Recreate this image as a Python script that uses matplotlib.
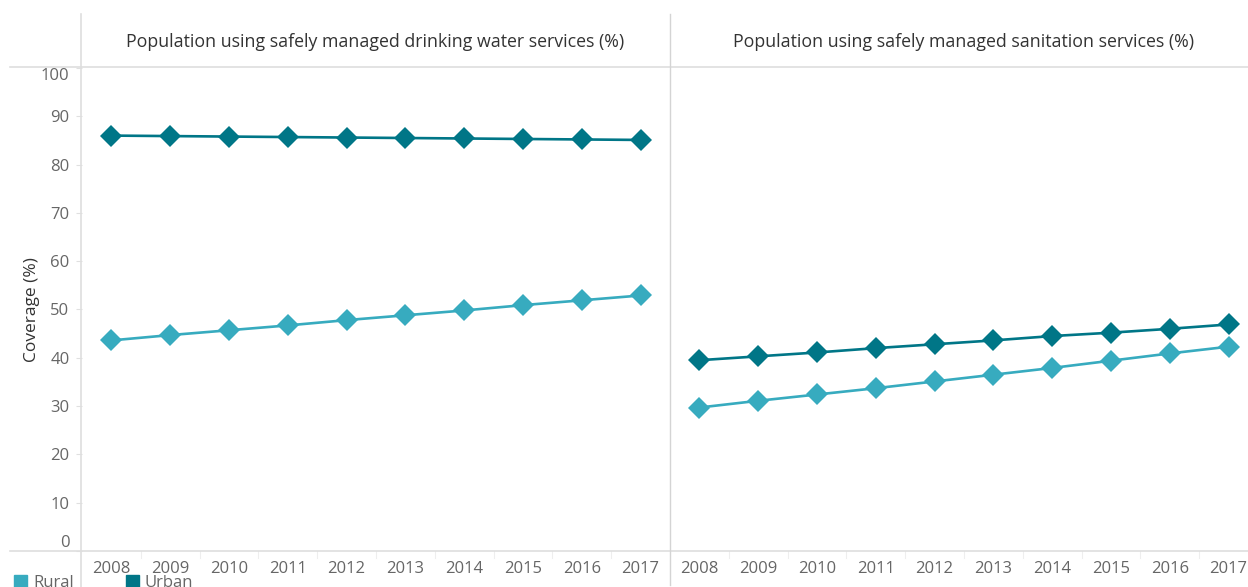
import matplotlib
matplotlib.use("Agg")
import matplotlib.pyplot as plt
from matplotlib.lines import Line2D
from matplotlib.patches import Rectangle

plt.rcParams['font.family'] = ['Open Sans', 'DejaVu Sans']

years = ["2008", "2009", "2010", "2011", "2012", "2013", "2014", "2015", "2016", "2017"]
panel_titles = ["Population using safely managed drinking water services (%)",
                "Population using safely managed sanitation services (%)"]
water_urban = [86.0, 85.9, 85.8, 85.7, 85.6, 85.5, 85.4, 85.3, 85.2, 85.1]
water_rural = [43.6, 44.7, 45.7, 46.7, 47.8, 48.8, 49.8, 50.9, 51.9, 52.9]
san_urban = [39.5, 40.3, 41.1, 42.0, 42.8, 43.6, 44.5, 45.2, 46.0, 46.9]
san_rural = [29.7, 31.1, 32.4, 33.7, 35.1, 36.5, 37.9, 39.4, 40.9, 42.3]
yticks = [0, 10, 20, 30, 40, 50, 60, 70, 80, 90, 100]
legend_labels = ["Rural", "Urban"]

RURAL = "#37abbf"
URBAN = "#007687"
GRID = "#dedede"
TXT = "#333333"
TICK = "#666666"

W, H = 1248, 587
fig = plt.figure(figsize=(W / 100, H / 100), dpi=100)


def fx(px):
    return px / W


def fy(py):
    return 1 - py / H


top_px, bot_px = 67, 551
pw = 588
panels = [(82, water_urban, water_rural), (670, san_urban, san_rural)]
title_x = [375, 964]
for i, (left, urb, rur) in enumerate(panels):
    ax = fig.add_axes([fx(left), fy(bot_px), pw / W, (bot_px - top_px) / H])
    x = list(range(len(years)))
    ax.plot(x, urb, color=URBAN, lw=1.9, marker='D', ms=11.5, mew=0, zorder=3)
    ax.plot(x, rur, color=RURAL, lw=1.9, marker='D', ms=11.5, mew=0, zorder=3)
    ax.set_xlim(-0.5, len(years) - 0.5)
    ax.set_ylim(0, 100.2)
    for s in ax.spines.values():
        s.set_visible(False)
    ax.set_xticks(x)
    ax.set_xticklabels(years)
    ax.tick_params(axis='x', length=0, pad=7, labelsize=12, labelcolor=TICK)
    ax.patch.set_alpha(0)
    for k in range(1, len(years)):
        ax.plot([k - 0.5, k - 0.5], [0, -1.4], color="#eeeeee", lw=0.8,
                clip_on=False)
    if i == 0:
        ax.set_yticks(yticks)
        ax.set_yticklabels([str(v) for v in yticks])
        ax.tick_params(axis='y', length=4, width=0.8, color="#e0e0e0",
                       pad=5, labelsize=12, labelcolor=TICK)
        labs = ax.get_yticklabels()
        labs[0].set_verticalalignment('bottom')
        labs[-1].set_verticalalignment('top')
    else:
        ax.set_yticks([])
    fig.text(fx(title_x[i]), fy(42), panel_titles[i],
             ha='center', va='center', fontsize=12.8, color=TXT)

# frame lines
fig.add_artist(Line2D([fx(10), 1], [fy(67), fy(67)], color=GRID, lw=1.2))
fig.add_artist(Line2D([fx(10), 1], [fy(551), fy(551)], color=GRID, lw=1.2))
fig.add_artist(Line2D([fx(81), fx(81)], [fy(14), fy(587)], color=GRID, lw=1.2))
fig.add_artist(Line2D([fx(670), fx(670)], [fy(14), fy(585)], color="#d4d4d4", lw=1.0))

fig.text(fx(32), fy(310), "Coverage (%)", rotation=90, ha='center', va='center',
         fontsize=12.5, color=TXT)

# legend (partially cut off at the bottom, as in the reference)
for lx, col, lab in [(14, RURAL, legend_labels[0]), (126, URBAN, legend_labels[1])]:
    fig.add_artist(Rectangle((fx(lx), fy(589)), 13 / W, 14 / H, color=col,
                             transform=fig.transFigure))
    fig.text(fx(lx + 19), fy(583), lab, ha='left', va='center', fontsize=12,
             color=TICK)

fig.savefig("out.png", dpi=100)
